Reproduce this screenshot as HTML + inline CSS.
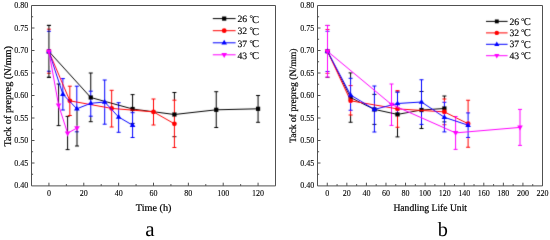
<!DOCTYPE html>
<html><head><meta charset="utf-8"><style>
html,body{margin:0;padding:0;background:#fff;width:550px;height:240px;overflow:hidden}
svg{display:block}
text{font-family:"Liberation Serif", "Times New Roman", serif;fill:#000;stroke:#000;stroke-width:0.2px;text-rendering:geometricPrecision}
.tk{font-size:8px;stroke-width:0.1px;text-rendering:auto}
.big{stroke:none}
.al{font-size:10.1px}
.yl{font-size:10.3px}
.lg{font-size:10px}
.big{font-size:21px}
</style></head><body>
<svg width="550" height="240" viewBox="0 0 550 240">
<defs><filter id="soft" x="0" y="0" width="550" height="240" filterUnits="userSpaceOnUse"><feConvolveMatrix order="3" kernelMatrix="0.01134 0.08382 0.01134 0.08382 0.61935 0.08382 0.01134 0.08382 0.01134" edgeMode="none"/></filter></defs>
<rect width="550" height="240" fill="#fff"/>
<path d="M31.5 5.5H275.5V185.9H31.5Z" fill="none" stroke="#505050" stroke-width="1"/>
<path d="M31.5 163h3 M31.5 140.5h3 M31.5 118h3 M31.5 95.5h3 M31.5 73h3 M31.5 50.5h3 M31.5 28h3 M31.5 174.25h1.6 M31.5 151.75h1.6 M31.5 129.25h1.6 M31.5 106.75h1.6 M31.5 84.25h1.6 M31.5 61.75h1.6 M31.5 39.25h1.6 M31.5 16.75h1.6 M48.93 185.9v-3.2 M83.79 185.9v-3.2 M118.64 185.9v-3.2 M153.5 185.9v-3.2 M188.36 185.9v-3.2 M223.21 185.9v-3.2 M258.07 185.9v-3.2 M66.36 185.9v-1.8 M101.21 185.9v-1.8 M136.07 185.9v-1.8 M170.93 185.9v-1.8 M205.79 185.9v-1.8 M240.64 185.9v-1.8" stroke="#505050" stroke-width="1" fill="none"/>
<text x="28.3" y="188.3" text-anchor="end" class="tk">0.40</text>
<text x="28.3" y="165.8" text-anchor="end" class="tk">0.45</text>
<text x="28.3" y="143.3" text-anchor="end" class="tk">0.50</text>
<text x="28.3" y="120.8" text-anchor="end" class="tk">0.55</text>
<text x="28.3" y="98.3" text-anchor="end" class="tk">0.60</text>
<text x="28.3" y="75.8" text-anchor="end" class="tk">0.65</text>
<text x="28.3" y="53.3" text-anchor="end" class="tk">0.70</text>
<text x="28.3" y="30.8" text-anchor="end" class="tk">0.75</text>
<text x="28.3" y="8.3" text-anchor="end" class="tk">0.80</text>
<text x="48.93" y="196.4" text-anchor="middle" class="tk">0</text>
<text x="83.79" y="196.4" text-anchor="middle" class="tk">20</text>
<text x="118.64" y="196.4" text-anchor="middle" class="tk">40</text>
<text x="153.5" y="196.4" text-anchor="middle" class="tk">60</text>
<text x="188.36" y="196.4" text-anchor="middle" class="tk">80</text>
<text x="223.21" y="196.4" text-anchor="middle" class="tk">100</text>
<text x="258.07" y="196.4" text-anchor="middle" class="tk">120</text>
<text x="153.6" y="210.8" text-anchor="middle" class="al" textLength="35.7" lengthAdjust="spacingAndGlyphs">Time (h)</text>
<text transform="translate(10.6 96.3) rotate(-90)" text-anchor="middle" style="font-size:10.2px" textLength="100.5" lengthAdjust="spacingAndGlyphs">Tack of prepreg (N/mm)</text>
<g filter="url(#soft)">
<path d="M46.93 25.4h4M46.93 77.3h4M90.76 73V91.2M90.76 116.2V121.7M88.76 73h4M88.76 121.7h4M132.59 94.6V112.7M130.59 94.6h4M130.59 123.4h4M174.41 92.5V100.2M172.41 92.5h4M172.41 136.7h4M216.24 91.7V127.5M214.24 91.7h4M214.24 127.5h4M258.07 95.5V122.3M256.07 95.5h4M256.07 122.3h4" stroke="#000000" stroke-width="1" fill="none"/>
<path d="M46.93 29.2h4M46.93 73.2h4M69.84 86.2V115.5M67.84 86.2h4M67.84 115.5h4M111.67 90.3V127M109.67 90.3h4M109.67 127h4M153.5 99V125M151.5 99h4M151.5 125h4M174.41 100.2V147.5M172.41 100.2h4M172.41 147.5h4" stroke="#ff0000" stroke-width="1" fill="none"/>
<path d="M46.93 31.25h4M46.93 71.25h4M62.87 78.6V110M60.87 78.6h4M60.87 110h4M76.81 86.2V109.4M74.81 86.2h4M74.81 131.8h4M90.76 91.2V116.2M88.76 91.2h4M88.76 116.2h4M104.7 80V124.2M102.7 80h4M102.7 124.2h4M118.64 102.7V132.3M116.64 102.7h4M116.64 132.3h4M132.59 112.7V137.5M130.59 112.7h4M130.59 137.5h4" stroke="#0000ff" stroke-width="1" fill="none"/>
<path d="M48.93 25.4V77.3M46.93 25.4h4M46.93 77.3h4M58.6 84V125.6M56.6 84h4M56.6 125.6h4M67.6 116.4V149.6M65.6 116.4h4M65.6 149.6h4M77 109.4V146M75 109.4h4M75 146h4" stroke="#000" stroke-width="1" fill="none"/>
<path d="M48.93 51.5L90.76 97.5L132.59 109L174.41 114.5L216.24 109.8L258.07 108.8" stroke="#000000" stroke-width="1" fill="none"/>
<rect x="46.83" y="49.4" width="4.2" height="4.2" fill="#000000"/>
<rect x="88.66" y="95.4" width="4.2" height="4.2" fill="#000000"/>
<rect x="130.49" y="106.9" width="4.2" height="4.2" fill="#000000"/>
<rect x="172.31" y="112.4" width="4.2" height="4.2" fill="#000000"/>
<rect x="214.14" y="107.7" width="4.2" height="4.2" fill="#000000"/>
<rect x="255.97" y="106.7" width="4.2" height="4.2" fill="#000000"/>
<path d="M48.93 51.5L69.84 100.8L111.67 108.4L153.5 111.9L174.41 123.8" stroke="#ff0000" stroke-width="1" fill="none"/>
<circle cx="48.93" cy="51.5" r="2.4" fill="#ff0000"/>
<circle cx="69.84" cy="100.8" r="2.4" fill="#ff0000"/>
<circle cx="111.67" cy="108.4" r="2.4" fill="#ff0000"/>
<circle cx="153.5" cy="111.9" r="2.4" fill="#ff0000"/>
<circle cx="174.41" cy="123.8" r="2.4" fill="#ff0000"/>
<path d="M48.93 51.5L62.87 94.2L76.81 108.8L90.76 103.3L104.7 102L118.64 117L132.59 125.2" stroke="#0000ff" stroke-width="1" fill="none"/>
<path d="M48.93 48.4L51.73 53.3L46.13 53.3Z" fill="#0000ff"/>
<path d="M62.87 91.1L65.67 96L60.07 96Z" fill="#0000ff"/>
<path d="M76.81 105.7L79.61 110.6L74.01 110.6Z" fill="#0000ff"/>
<path d="M90.76 100.2L93.56 105.1L87.96 105.1Z" fill="#0000ff"/>
<path d="M104.7 98.9L107.5 103.8L101.9 103.8Z" fill="#0000ff"/>
<path d="M118.64 113.9L121.44 118.8L115.84 118.8Z" fill="#0000ff"/>
<path d="M132.59 122.1L135.39 127L129.79 127Z" fill="#0000ff"/>
<path d="M48.93 51.5L58.6 105.2L67.6 133.2L77 128" stroke="#ff00ff" stroke-width="1" fill="none"/>
<path d="M48.93 54.6L51.73 49.7L46.13 49.7Z" fill="#ff00ff"/>
<path d="M58.6 108.3L61.4 103.4L55.8 103.4Z" fill="#ff00ff"/>
<path d="M67.6 136.3L70.4 131.4L64.8 131.4Z" fill="#ff00ff"/>
<path d="M77 131.1L79.8 126.2L74.2 126.2Z" fill="#ff00ff"/>
</g>
<g filter="url(#soft)">
<path d="M212.8 18.6H235.6" stroke="#000000" stroke-width="1"/>
<rect x="222.1" y="16.5" width="4.2" height="4.2" fill="#000000"/>
<path d="M212.8 30.7H235.6" stroke="#ff0000" stroke-width="1"/>
<circle cx="224.2" cy="30.7" r="2.4" fill="#ff0000"/>
<path d="M212.8 42.8H235.6" stroke="#0000ff" stroke-width="1"/>
<path d="M224.2 39.7L227 44.6L221.4 44.6Z" fill="#0000ff"/>
<path d="M212.8 54.8H235.6" stroke="#ff00ff" stroke-width="1"/>
<path d="M224.2 57.9L227 53L221.4 53Z" fill="#ff00ff"/>
</g>
<text x="237.5" y="22.3" style="font-size:9.7px;stroke-width:0.15px">26 <tspan style="font-size:8.6px" dx="-0.2" dy="-1.0">°</tspan><tspan dx="-0.9" dy="1.4" style="font-size:10.6px">C</tspan></text>
<text x="237.5" y="34.4" style="font-size:9.7px;stroke-width:0.15px">32 <tspan style="font-size:8.6px" dx="-0.2" dy="-1.0">°</tspan><tspan dx="-0.9" dy="1.4" style="font-size:10.6px">C</tspan></text>
<text x="237.5" y="46.5" style="font-size:9.7px;stroke-width:0.15px">37 <tspan style="font-size:8.6px" dx="-0.2" dy="-1.0">°</tspan><tspan dx="-0.9" dy="1.4" style="font-size:10.6px">C</tspan></text>
<text x="237.5" y="58.5" style="font-size:9.7px;stroke-width:0.15px">43 <tspan style="font-size:8.6px" dx="-0.2" dy="-1.0">°</tspan><tspan dx="-0.9" dy="1.4" style="font-size:10.6px">C</tspan></text>
<path d="M317.5 5.5H542.5V185.9H317.5Z" fill="none" stroke="#505050" stroke-width="1"/>
<path d="M317.5 163h3 M317.5 140.5h3 M317.5 118h3 M317.5 95.5h3 M317.5 73h3 M317.5 50.5h3 M317.5 28h3 M317.5 174.25h1.6 M317.5 151.75h1.6 M317.5 129.25h1.6 M317.5 106.75h1.6 M317.5 84.25h1.6 M317.5 61.75h1.6 M317.5 39.25h1.6 M317.5 16.75h1.6 M327.28 185.9v-3.2 M346.85 185.9v-3.2 M366.41 185.9v-3.2 M385.98 185.9v-3.2 M405.54 185.9v-3.2 M425.11 185.9v-3.2 M444.67 185.9v-3.2 M464.24 185.9v-3.2 M483.8 185.9v-3.2 M503.37 185.9v-3.2 M522.93 185.9v-3.2 M542.5 185.9v-3.2 M337.07 185.9v-1.8 M356.63 185.9v-1.8 M376.2 185.9v-1.8 M395.76 185.9v-1.8 M415.33 185.9v-1.8 M434.89 185.9v-1.8 M454.46 185.9v-1.8 M474.02 185.9v-1.8 M493.59 185.9v-1.8 M513.15 185.9v-1.8 M532.72 185.9v-1.8" stroke="#505050" stroke-width="1" fill="none"/>
<text x="314.3" y="188.3" text-anchor="end" class="tk">0.40</text>
<text x="314.3" y="165.8" text-anchor="end" class="tk">0.45</text>
<text x="314.3" y="143.3" text-anchor="end" class="tk">0.50</text>
<text x="314.3" y="120.8" text-anchor="end" class="tk">0.55</text>
<text x="314.3" y="98.3" text-anchor="end" class="tk">0.60</text>
<text x="314.3" y="75.8" text-anchor="end" class="tk">0.65</text>
<text x="314.3" y="53.3" text-anchor="end" class="tk">0.70</text>
<text x="314.3" y="30.8" text-anchor="end" class="tk">0.75</text>
<text x="314.3" y="8.3" text-anchor="end" class="tk">0.80</text>
<text x="327.28" y="196.4" text-anchor="middle" class="tk">0</text>
<text x="346.85" y="196.4" text-anchor="middle" class="tk">20</text>
<text x="366.41" y="196.4" text-anchor="middle" class="tk">40</text>
<text x="385.98" y="196.4" text-anchor="middle" class="tk">60</text>
<text x="405.54" y="196.4" text-anchor="middle" class="tk">80</text>
<text x="425.11" y="196.4" text-anchor="middle" class="tk">100</text>
<text x="444.67" y="196.4" text-anchor="middle" class="tk">120</text>
<text x="464.24" y="196.4" text-anchor="middle" class="tk">140</text>
<text x="483.8" y="196.4" text-anchor="middle" class="tk">160</text>
<text x="503.37" y="196.4" text-anchor="middle" class="tk">180</text>
<text x="522.93" y="196.4" text-anchor="middle" class="tk">200</text>
<text x="542.5" y="196.4" text-anchor="middle" class="tk">220</text>
<text x="430.2" y="210.8" text-anchor="middle" class="al" textLength="73.6" lengthAdjust="spacingAndGlyphs">Handling Life Unit</text>
<text transform="translate(296.2 95.8) rotate(-90)" text-anchor="middle" style="font-size:9.6px" textLength="94.4" lengthAdjust="spacingAndGlyphs">Tack of prepreg (N/mm)</text>
<g filter="url(#soft)">
<path d="M325.5 25.4h4M325.5 77.3h4M350.6 72.9V78.3M350.6 115V122.25M348.6 72.9h4M348.6 122.25h4M372.4 94.4h4M372.4 124.4h4M397.5 127.25V136.9M395.5 91.9h4M395.5 136.9h4M421.5 124.4V128.5M419.5 91.5h4M419.5 128.5h4M444.4 96V99M442.4 96h4M442.4 121.9h4" stroke="#000000" stroke-width="1" fill="none"/>
<path d="M325.5 29.5h4M325.5 73.3h4M350.6 110.25V115M348.6 85.6h4M348.6 115h4M397.5 90.6V92.1M397.5 114.9V127.25M395.5 90.6h4M395.5 127.25h4M444.4 99V102.25M442.4 99h4M442.4 124.75h4M468.1 100.25V112.9M468.1 137.5V147.25M466.1 100.25h4M466.1 147.25h4" stroke="#ff0000" stroke-width="1" fill="none"/>
<path d="M325.5 31.25h4M325.5 71.5h4M350.6 78.3V110.25M348.6 78.3h4M348.6 110.25h4M374.4 86V132M372.4 86h4M372.4 132h4M397.5 92.1V114.9M395.5 92.1h4M395.5 114.9h4M421.5 79.75V124.4M419.5 79.75h4M419.5 124.4h4M444.4 102.25V131.9M442.4 102.25h4M442.4 131.9h4M468.1 112.9V137.5M466.1 112.9h4M466.1 137.5h4" stroke="#0000ff" stroke-width="1" fill="none"/>
<path d="M327.5 25.5V77.1M325.5 25.5h4M325.5 77.1h4M391.5 84V125.4M389.5 84h4M389.5 125.4h4M455.6 116.5V149.4M453.6 116.5h4M453.6 149.4h4M520 109.4V145.4M518 109.4h4M518 145.4h4" stroke="#ff00ff" stroke-width="1" fill="none"/>
<path d="M327.5 51.3L350.6 97.6L374.4 109.4L397.5 114.4L421.5 110L444.4 108.5" stroke="#000000" stroke-width="1" fill="none"/>
<rect x="325.4" y="49.2" width="4.2" height="4.2" fill="#000000"/>
<rect x="348.5" y="95.5" width="4.2" height="4.2" fill="#000000"/>
<rect x="372.3" y="107.3" width="4.2" height="4.2" fill="#000000"/>
<rect x="395.4" y="112.3" width="4.2" height="4.2" fill="#000000"/>
<rect x="419.4" y="107.9" width="4.2" height="4.2" fill="#000000"/>
<rect x="442.3" y="106.4" width="4.2" height="4.2" fill="#000000"/>
<path d="M327.5 51.3L350.6 100.8L397.5 108.9L444.4 111.9L468.1 123.75" stroke="#ff0000" stroke-width="1" fill="none"/>
<circle cx="327.5" cy="51.3" r="2.4" fill="#ff0000"/>
<circle cx="350.6" cy="100.8" r="2.4" fill="#ff0000"/>
<circle cx="397.5" cy="108.9" r="2.4" fill="#ff0000"/>
<circle cx="444.4" cy="111.9" r="2.4" fill="#ff0000"/>
<circle cx="468.1" cy="123.75" r="2.4" fill="#ff0000"/>
<path d="M327.5 51.3L350.6 95L374.4 109.4L397.5 103.5L421.5 102L444.4 117.3L468.1 125.2" stroke="#0000ff" stroke-width="1" fill="none"/>
<path d="M327.5 48.2L330.3 53.1L324.7 53.1Z" fill="#0000ff"/>
<path d="M350.6 91.9L353.4 96.8L347.8 96.8Z" fill="#0000ff"/>
<path d="M374.4 106.3L377.2 111.2L371.6 111.2Z" fill="#0000ff"/>
<path d="M397.5 100.4L400.3 105.3L394.7 105.3Z" fill="#0000ff"/>
<path d="M421.5 98.9L424.3 103.8L418.7 103.8Z" fill="#0000ff"/>
<path d="M444.4 114.2L447.2 119.1L441.6 119.1Z" fill="#0000ff"/>
<path d="M468.1 122.1L470.9 127L465.3 127Z" fill="#0000ff"/>
<path d="M327.5 51.3L391.5 104.5L455.6 132.9L520 127.4" stroke="#ff00ff" stroke-width="1" fill="none"/>
<path d="M327.5 54.4L330.3 49.5L324.7 49.5Z" fill="#ff00ff"/>
<path d="M391.5 107.6L394.3 102.7L388.7 102.7Z" fill="#ff00ff"/>
<path d="M455.6 136L458.4 131.1L452.8 131.1Z" fill="#ff00ff"/>
<path d="M520 130.5L522.8 125.6L517.2 125.6Z" fill="#ff00ff"/>
</g>
<g filter="url(#soft)">
<path d="M486 21.4H507.6" stroke="#000000" stroke-width="1"/>
<rect x="494.87" y="19.47" width="3.86" height="3.86" fill="#000000"/>
<path d="M486 32.9H507.6" stroke="#ff0000" stroke-width="1"/>
<circle cx="496.8" cy="32.9" r="2.21" fill="#ff0000"/>
<path d="M486 44.3H507.6" stroke="#0000ff" stroke-width="1"/>
<path d="M496.8 41.45L499.38 45.96L494.22 45.96Z" fill="#0000ff"/>
<path d="M486 55.7H507.6" stroke="#ff00ff" stroke-width="1"/>
<path d="M496.8 58.55L499.38 54.04L494.22 54.04Z" fill="#ff00ff"/>
</g>
<text x="509.5" y="24.55" style="font-size:9.7px;stroke-width:0.15px">26 <tspan style="font-size:8.6px" dx="-0.6" dy="-1.0">°</tspan><tspan dx="-0.7" dy="1.4" style="font-size:10.6px">C</tspan></text>
<text x="509.5" y="36.05" style="font-size:9.7px;stroke-width:0.15px">32 <tspan style="font-size:8.6px" dx="-0.6" dy="-1.0">°</tspan><tspan dx="-0.7" dy="1.4" style="font-size:10.6px">C</tspan></text>
<text x="509.5" y="47.45" style="font-size:9.7px;stroke-width:0.15px">37 <tspan style="font-size:8.6px" dx="-0.6" dy="-1.0">°</tspan><tspan dx="-0.7" dy="1.4" style="font-size:10.6px">C</tspan></text>
<text x="509.5" y="58.85" style="font-size:9.7px;stroke-width:0.15px">43 <tspan style="font-size:8.6px" dx="-0.6" dy="-1.0">°</tspan><tspan dx="-0.7" dy="1.4" style="font-size:10.6px">C</tspan></text>
<text x="150" y="235.5" text-anchor="middle" class="big">a</text>
<text x="442.9" y="235.6" text-anchor="middle" class="big" style="font-size:20.3px">b</text>
</svg>
</body></html>
